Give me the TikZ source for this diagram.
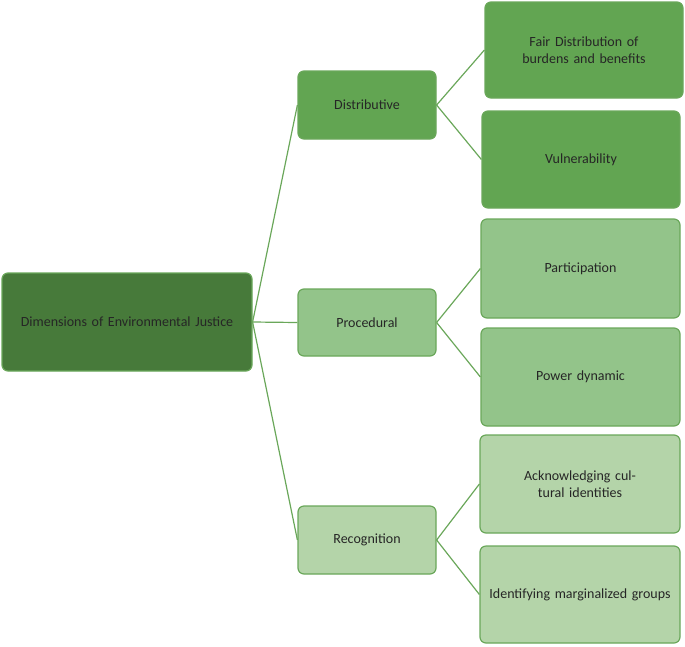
\documentclass[tikz,border=0pt]{standalone}
\usepackage{fontspec}
\setmainfont{Carlito}
\definecolor{dk}{HTML}{477A3A}
\definecolor{md}{HTML}{62A552}
\definecolor{lt}{HTML}{93C48A}
\definecolor{vl}{HTML}{B4D4A9}
\definecolor{ln}{HTML}{6AA75A}
\begin{document}
\begin{tikzpicture}[x=1pt,y=-1pt,
 bx/.style={draw=ln,line width=1.2pt,rounded corners=6pt,align=center,font=\fontsize{14}{17}\selectfont,text=black!85,inner sep=2pt},
 con/.style={draw=ln,line width=1.2pt}]
\useasboundingbox (0,0) rectangle (685,646);
\newcommand{\bxn}[7]{\node[bx,fill=#2,minimum width=#5-#3,minimum height=#6-#4,text width=#5-#3-14] (#1) at ({(#3+#5)/2},{(#4+#6)/2}) {#7};}
\bxn{root}{dk}{2}{273}{252}{371}{Dimensions of Environmental Justice}
\bxn{dis}{md}{298}{71}{436}{139}{Distributive}
\bxn{fair}{md}{485}{2}{683}{98}{Fair Distribution of\\burdens and benefits}
\bxn{vul}{md}{482}{111}{680}{208}{Vulnerability}
\bxn{pro}{lt}{298}{289}{436}{356}{Procedural}
\bxn{par}{lt}{481}{219}{680}{318}{Participation}
\bxn{pow}{lt}{481}{328}{680}{426}{Power dynamic}
\bxn{rec}{vl}{298}{506}{436}{574}{Recognition}
\bxn{ack}{vl}{480}{435}{680}{533}{Acknowledging cultural identities}
\bxn{ide}{vl}{480}{546}{680}{643}{Identifying marginalized groups}
\foreach \c in {dis,pro,rec} \draw[con] (root.east) -- (\c.west);
\draw[con] (dis.east) -- (fair.west); \draw[con] (dis.east) -- (vul.west);
\draw[con] (pro.east) -- (par.west); \draw[con] (pro.east) -- (pow.west);
\draw[con] (rec.east) -- (ack.west); \draw[con] (rec.east) -- (ide.west);
\end{tikzpicture}
\end{document}
